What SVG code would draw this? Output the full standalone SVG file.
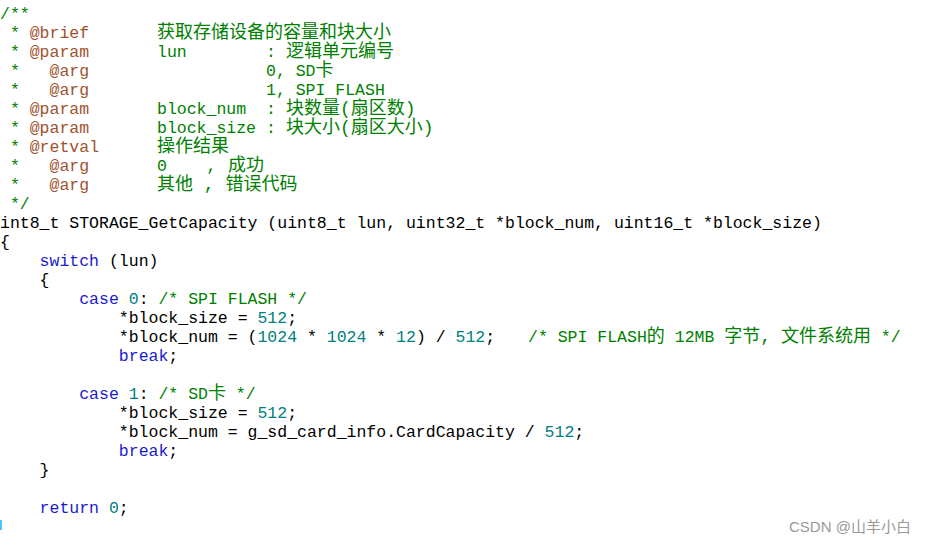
<svg xmlns="http://www.w3.org/2000/svg" width="938" height="545" viewBox="0 0 938 545">
<style>
text{font-family:"Liberation Mono","Noto Sans CJK SC",monospace;font-size:16.5px;fill:#000;white-space:pre}
.c{fill:#008000}.t{fill:#a0522d}.k{fill:#1a1ad0}.n{fill:#008080}
.z{font-size:18px}
.w{font-family:"Liberation Sans","Noto Sans CJK SC",sans-serif;font-size:15px;fill:#999}
</style>
<rect width="938" height="545" fill="#fff"/>
<g id="comment">
<text x="0" y="19" class="c">/**</text>
<text x="0" y="38" class="c" xml:space="preserve"> * <tspan class="t">@brief</tspan><tspan x="157" class="z">获取存储设备的容量和块大小</tspan></text>
<text x="0" y="57" class="c" xml:space="preserve"> * <tspan class="t">@param</tspan><tspan x="157">lun</tspan><tspan x="266">: </tspan><tspan x="286" class="z">逻辑单元编号</tspan></text>
<text x="0" y="76" class="c" xml:space="preserve"> *   <tspan class="t">@arg</tspan><tspan x="266">0, SD<tspan class="z">卡</tspan></tspan></text>
<text x="0" y="95" class="c" xml:space="preserve"> *   <tspan class="t">@arg</tspan><tspan x="266">1, SPI FLASH</tspan></text>
<text x="0" y="114" class="c" xml:space="preserve"> * <tspan class="t">@param</tspan><tspan x="157">block_num  : </tspan><tspan x="286" class="z">块数量(扇区数)</tspan></text>
<text x="0" y="133" class="c" xml:space="preserve"> * <tspan class="t">@param</tspan><tspan x="157">block_size : </tspan><tspan x="286" class="z">块大小(扇区大小)</tspan></text>
<text x="0" y="152" class="c" xml:space="preserve"> * <tspan class="t">@retval</tspan><tspan x="157" class="z">操作结果</tspan></text>
<text x="0" y="171" class="c" xml:space="preserve"> *   <tspan class="t">@arg</tspan><tspan x="157">0    , </tspan><tspan x="228" class="z">成功</tspan></text>
<text x="0" y="190" class="c" xml:space="preserve"> *   <tspan class="t">@arg</tspan><tspan x="157" class="z">其他 , 错误代码</tspan></text>
<text x="0" y="209" class="c" xml:space="preserve"> */</text>
</g>
<g id="code">
<text x="0" y="228" xml:space="preserve">int8_t STORAGE_GetCapacity (uint8_t lun, uint32_t *block_num, uint16_t *block_size)</text>
<text x="0" y="247">{</text>
<text x="0" y="266" xml:space="preserve">    <tspan class="k">switch</tspan> (lun)</text>
<text x="0" y="285" xml:space="preserve">    {</text>
<text x="0" y="304" xml:space="preserve">        <tspan class="k">case</tspan> <tspan class="n">0</tspan>: <tspan class="c">/* SPI FLASH */</tspan></text>
<text x="0" y="323" xml:space="preserve">            *block_size = <tspan class="n">512</tspan>;</text>
<text x="0" y="342" xml:space="preserve">            *block_num = (<tspan class="n">1024</tspan> * <tspan class="n">1024</tspan> * <tspan class="n">12</tspan>) / <tspan class="n">512</tspan>;<tspan x="528" class="c">/* SPI FLASH<tspan class="z">的</tspan> 12MB <tspan class="z">字节,</tspan> <tspan class="z">文件系统用</tspan> */</tspan></text>
<text x="0" y="361" xml:space="preserve">            <tspan class="k">break</tspan>;</text>
<text x="0" y="399" xml:space="preserve">        <tspan class="k">case</tspan> <tspan class="n">1</tspan>: <tspan class="c">/* SD<tspan class="z">卡</tspan> */</tspan></text>
<text x="0" y="418" xml:space="preserve">            *block_size = <tspan class="n">512</tspan>;</text>
<text x="0" y="437" xml:space="preserve">            *block_num = g_sd_card_info.CardCapacity / <tspan class="n">512</tspan>;</text>
<text x="0" y="456" xml:space="preserve">            <tspan class="k">break</tspan>;</text>
<text x="0" y="475" xml:space="preserve">    }</text>
<text x="0" y="513" xml:space="preserve">    <tspan class="k">return</tspan> <tspan class="n">0</tspan>;</text>
</g>
<line x1="1" y1="520" x2="1" y2="530" stroke="#4fc3f7" stroke-width="2"/>
<text class="w" x="789" y="532">CSDN @山羊小白</text>
</svg>
